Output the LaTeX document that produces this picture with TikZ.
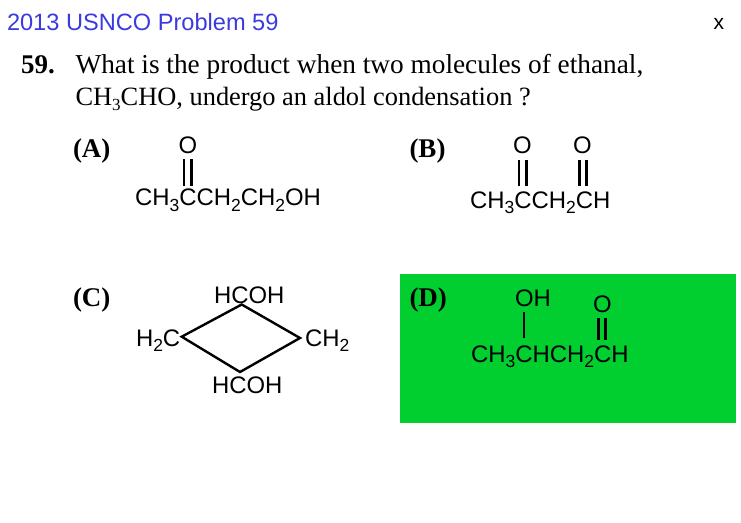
\documentclass[tikz,border=0pt]{standalone}
\usepackage{fontspec}
\setmainfont{Liberation Serif}
\newfontfamily\chemfont{Liberation Sans}
\definecolor{titleblue}{RGB}{58,58,224}
\definecolor{answergreen}{RGB}{0,207,47}
\newcommand{\sbs}[1]{\raisebox{-.24em}{\fontsize{17.5}{18}\selectfont #1}}
\newcommand{\qsb}[1]{\raisebox{-.22em}{\fontsize{17}{18}\selectfont #1}}
\tikzset{
  lbl/.style={anchor=base west,inner sep=0pt,outer sep=0pt},
  titletext/.style={lbl,text=titleblue,font=\chemfont\fontsize{23.6}{27}\selectfont},
  closetext/.style={lbl,font=\chemfont\fontsize{21}{24}\selectfont},
  question/.style={lbl,font=\fontsize{27.3}{31}\selectfont},
  questiontwo/.style={lbl,font=\fontsize{26.4}{31}\selectfont},
  letter/.style={lbl,font=\bfseries\fontsize{27}{31}\selectfont},
  chem/.style={lbl,font=\chemfont\fontsize{23.9}{27}\selectfont},
  bond/.style={line width=2.1pt,black},
  ring/.style={line width=2.4pt,black,line join=miter}
}
\begin{document}
\begin{tikzpicture}[x=1pt,y=-1pt]
\useasboundingbox (0,0) rectangle (741,522);
\fill[answergreen] (400,274) rectangle (736,423);
\node[titletext] (title) at (7,30) {2013 USNCO Problem 59};
\node[closetext] (close) at (713.5,29) {x};
\node[letter] (num) at (21,73) {59.};
\node[question] (q1) at (75.5,73) {What is the product when two molecules of ethanal,};
\node[questiontwo] (q2) at (75.5,105) {CH\qsb{3}CHO, undergo an aldol condensation ?};
% A
\node[letter] (la) at (73,157) {(A)};
\node[chem] (ao) at (178.5,153) {O};
\node[chem] (af) at (135,205.5) {CH\sbs{3}CCH\sbs{2}CH\sbs{2}OH};
\coordinate (ab1) at (184,186); \coordinate (at1) at (184,159);
\coordinate (ab2) at (191.5,186); \coordinate (at2) at (191.5,159);
\draw[bond] (at1) -- (ab1); \draw[bond] (at2) -- (ab2);
% B
\node[letter] (lb) at (409.5,157) {(B)};
\node[chem] (bo1) at (513,153) {O};
\node[chem] (bo2) at (573,153) {O};
\node[chem] (bf) at (470,208) {CH\sbs{3}CCH\sbs{2}CH};
\coordinate (bb1) at (519,186); \coordinate (bt1) at (519,160);
\coordinate (bb2) at (526.5,186); \coordinate (bt2) at (526.5,160);
\coordinate (bb3) at (579.5,186); \coordinate (bt3) at (579.5,160);
\coordinate (bb4) at (586.5,186); \coordinate (bt4) at (586.5,160);
\draw[bond] (bt1) -- (bb1); \draw[bond] (bt2) -- (bb2);
\draw[bond] (bt3) -- (bb3); \draw[bond] (bt4) -- (bb4);
% C
\node[letter] (lc) at (73,306) {(C)};
\node[chem] (ct) at (214,303) {HCOH};
\node[chem] (cb) at (212,393) {HCOH};
\node[chem] (cl) at (136,346) {H\sbs{2}C};
\node[chem] (cr) at (305,346) {CH\sbs{2}};
\coordinate (v1) at (241.7,304.5);
\coordinate (v2) at (300,338);
\coordinate (v3) at (240,372);
\coordinate (v4) at (181.7,336.7);
\draw[ring] (v1) -- (v2) -- (v3) -- (v4) -- cycle;
% D
\node[letter] (ld) at (409.5,306) {(D)};
\node[chem] (doh) at (515,306) {OH};
\node[chem] (do) at (593,312) {O};
\node[chem] (df) at (471,362) {CH\sbs{3}CHCH\sbs{2}CH};
\coordinate (ds1) at (524,312); \coordinate (ds2) at (524,338);
\coordinate (dt1) at (598.5,318); \coordinate (db1) at (598.5,340);
\coordinate (dt2) at (605.5,318); \coordinate (db2) at (605.5,340);
\draw[bond] (ds1) -- (ds2);
\draw[bond] (dt1) -- (db1); \draw[bond] (dt2) -- (db2);
\end{tikzpicture}
\end{document}
